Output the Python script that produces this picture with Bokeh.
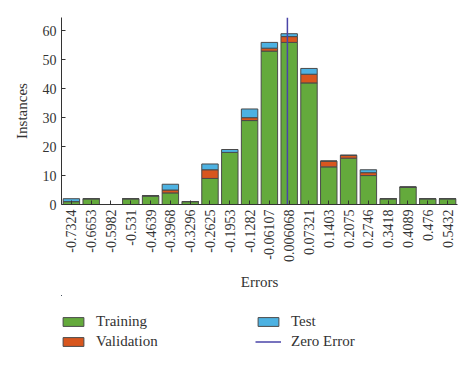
import math
from bokeh.plotting import figure
from bokeh.layouts import column
from bokeh.models import Range1d, Legend, LegendItem, FixedTicker
from bokeh.embed import file_html
from bokeh.resources import INLINE

# ---- data ----
bin_centers = [-0.7324, -0.6653, -0.5982, -0.531, -0.4639, -0.3968, -0.3296, -0.2625,
               -0.1953, -0.1282, -0.06107, 0.006068, 0.07321, 0.1403, 0.2075, 0.2746,
               0.3418, 0.4089, 0.476, 0.5432]
tick_labels = ["-0.7324", "-0.6653", "-0.5982", "-0.531", "-0.4639", "-0.3968", "-0.3296",
               "-0.2625", "-0.1953", "-0.1282", "-0.06107", "0.006068", "0.07321", "0.1403",
               "0.2075", "0.2746", "0.3418", "0.4089", "0.476", "0.5432"]
training = [1, 2, 0, 2, 3, 4, 1, 9, 18, 29, 53, 56, 42, 13, 16, 10, 2, 6, 2, 2]
validation = [0, 0, 0, 0, 0, 1, 0, 3, 0, 1, 1, 2, 3, 2, 1, 1, 0, 0, 0, 0]
test = [1, 0, 0, 0, 0, 2, 0, 2, 1, 3, 2, 1, 2, 0, 0, 1, 0, 0, 0, 0]
series_names = ["Training", "Validation", "Test"]
series_colors = ["#64aa3c", "#d8561e", "#4db2e2"]
zero_error = 0.0
zero_color = "#4a44a8"
y_max = 64.6

FONT = "Liberation Serif"
EDGE = "#4a4a4a"
bin_w = (bin_centers[-1] - bin_centers[0]) / (len(bin_centers) - 1)

p = figure(width=474, height=295, output_backend="svg", toolbar_location=None,
           x_range=Range1d(bin_centers[0] - bin_w / 2, bin_centers[-1] + bin_w / 2),
           y_range=Range1d(0, y_max),
           min_border_left=61, min_border_right=17, min_border_top=17, min_border_bottom=91)
p.outline_line_color = None
p.grid.visible = False

src = dict(x=bin_centers, Training=training, Validation=validation, Test=test)
rs = p.vbar_stack(series_names, x="x", width=bin_w * 0.83, source=src,
                  fill_color=series_colors, line_color=EDGE, line_width=1)
p.segment(x0=[zero_error], y0=[0], x1=[zero_error], y1=[y_max],
          line_color=zero_color, line_width=1.5)

for ax in (p.xaxis[0], p.yaxis[0]):
    ax.axis_line_color = "#333333"
    ax.major_tick_line_color = "#333333"
    ax.major_tick_in = 4
    ax.major_tick_out = 0
    ax.minor_tick_line_color = None
    ax.major_label_text_font = FONT
    ax.major_label_text_font_size = "14px"
    ax.major_label_text_color = "#333333"
    ax.axis_label_text_font = FONT
    ax.axis_label_text_font_size = "15px"
    ax.axis_label_text_font_style = "normal"
    ax.axis_label_text_color = "#333333"

p.yaxis.ticker = FixedTicker(ticks=[0, 10, 20, 30, 40, 50, 60])
p.yaxis.axis_label = "Instances"
p.yaxis.major_label_standoff = 5
p.yaxis.axis_label_standoff = 10

p.xaxis.ticker = FixedTicker(ticks=bin_centers)
p.xaxis.major_label_overrides = {c: l for c, l in zip(bin_centers, tick_labels)}
p.xaxis.major_label_orientation = math.pi / 2
p.xaxis.major_label_standoff = 5
p.xaxis.axis_label = "Errors"
p.xaxis.axis_label_standoff = 9

# ---- legend panel (separate figure below the chart; its glyphs lie far outside its ranges) ----
q = figure(width=474, height=70, output_backend="svg", toolbar_location=None,
           x_range=Range1d(1000, 1001), y_range=Range1d(-1000, -999),
           min_border_left=0, min_border_right=0, min_border_top=0, min_border_bottom=0)
q.axis.visible = False
q.grid.visible = False
q.outline_line_color = None
lg = q.vbar_stack(series_names, x="x", width=bin_w * 0.83, source=src,
                  fill_color=series_colors, line_color=EDGE, line_width=1)
lz = q.segment(x0=[zero_error], y0=[0], x1=[zero_error], y1=[y_max],
               line_color=zero_color, line_width=1.5)

legend = Legend(items=[LegendItem(label="Training", renderers=[lg[0]]),
                       LegendItem(label="Test", renderers=[lg[2]]),
                       LegendItem(label="Validation", renderers=[lg[1]]),
                       LegendItem(label="Zero Error", renderers=[lz])],
                ncols=2, orientation="horizontal", location=(-1, 14),
                border_line_color=None, background_fill_alpha=0,
                glyph_width=26, glyph_height=11, label_standoff=10,
                label_height=20, label_width=159, spacing=0,
                padding=0, margin=0,
                label_text_font=FONT, label_text_font_size="15px",
                label_text_color="#333333")
q.add_layout(legend, "center")

open("out.html", "w").write(file_html(column(p, q), INLINE))
